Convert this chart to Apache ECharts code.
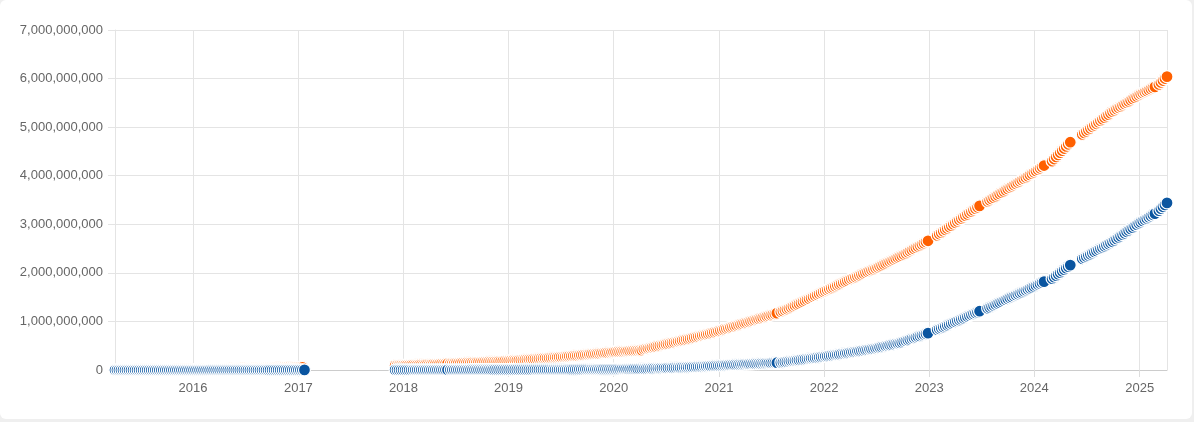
<!DOCTYPE html>
<html>
<head>
<meta charset="utf-8">
<script src="https://cdn.jsdelivr.net/npm/echarts@6/dist/echarts.min.js"></script>
<style>
	html, body { margin: 0; padding: 0; background: #efefef; }
	#card { position: absolute; left: 0; top: 0; width: 1192px; height: 419px;
		background: #fff; border-radius: 6px; }
	#main { width: 1192px; height: 419px; }
</style>
</head>
<body>
<div id="card"><div id="main"></div></div>
<script>
// weekly samples, one start date per run of data (gaps between runs)
var segStarts = [ '2015-04-05', '2017-12-03', '2018-06-13', '2020-04-15',
		'2021-08-04', '2023-01-29', '2023-07-23', '2024-03-03', '2024-06-16',
		'2025-03-09' ];

// values in millions
var orangeSegs = [
	[ 0, 0, 1, 1, 1, 1, 2, 2, 2, 2, 3, 3, 3, 3, 4, 4, 4, 4, 5, 5, 5, 5, 6, 6, 6,
		6, 7, 7, 7, 7, 8, 8, 8, 8, 9, 9, 9, 9, 10, 10, 11, 12, 12, 13, 14, 15,
		16, 16, 17, 18, 19, 19, 20, 21, 22, 23, 23, 24, 25, 26, 26, 27, 28, 29,
		29, 30, 31, 32, 33, 34, 35, 36, 37, 38, 38, 39, 40, 41, 42, 43, 44, 45,
		46, 47, 47, 48, 49, 50, 51, 52, 53, 53, 54, 55 ],
	[ 91, 93, 94, 96, 97, 99, 100, 102, 103, 105, 106, 108, 109, 111, 112,
		114, 115, 117, 118, 120, 121, 123, 124, 126, 127, 129, 130 ],
	[ 135, 137, 139, 141, 143, 145, 146, 148, 150, 152, 154, 156, 158, 160,
		162, 164, 166, 167, 169, 171, 173, 175, 177, 179, 181, 183, 185, 187,
		188, 190, 193, 196, 199, 202, 205, 208, 212, 215, 218, 221, 224, 227,
		230, 233, 236, 239, 242, 245, 248, 251, 255, 258, 261, 264, 267, 270,
		274, 278, 282, 285, 289, 293, 297, 301, 305, 308, 312, 316, 320, 324,
		328, 332, 335, 339, 343, 347, 351, 355, 358, 362, 366, 370, 373, 376,
		379, 381, 384, 387, 390, 393, 396, 398, 401, 404, 407, 410 ],
	[ 430, 440, 449, 459, 468, 478, 487, 497, 506, 516, 525, 535, 544, 554,
		563, 573, 583, 592, 602, 612, 621, 631, 640, 650, 661, 672, 682, 693,
		704, 715, 726, 736, 747, 758, 769, 779, 790, 803, 815, 828, 841, 853,
		866, 879, 892, 904, 917, 930, 942, 955, 968, 980, 993, 1006, 1018,
		1031, 1044, 1056, 1069, 1082, 1094, 1107, 1120, 1132, 1145, 1158, 1170 ],
	[ 1200, 1218, 1237, 1255, 1274, 1292, 1310, 1329, 1347, 1367, 1387, 1408,
		1428, 1448, 1468, 1489, 1509, 1529, 1549, 1570, 1590, 1610, 1629, 1648,
		1668, 1687, 1706, 1725, 1745, 1764, 1783, 1802, 1822, 1841, 1860, 1878,
		1896, 1914, 1932, 1950, 1969, 1987, 2005, 2023, 2041, 2059, 2077, 2095,
		2115, 2135, 2155, 2175, 2195, 2215, 2235, 2255, 2275, 2295, 2315, 2335,
		2355, 2378, 2402, 2425, 2449, 2472, 2496, 2519, 2543, 2566, 2590, 2613,
		2637, 2660 ],
	[ 2770, 2799, 2828, 2857, 2886, 2915, 2944, 2973, 3002, 3031, 3060, 3089,
		3118, 3147, 3176, 3205, 3234, 3263, 3292, 3321, 3350, 3380 ],
	[ 3470, 3496, 3522, 3548, 3574, 3600, 3626, 3652, 3678, 3704, 3730, 3756,
		3782, 3808, 3834, 3860, 3886, 3912, 3938, 3964, 3990, 4017, 4044, 4071,
		4098, 4125, 4153, 4181, 4210 ],
	[ 4300, 4343, 4387, 4430, 4473, 4517, 4560, 4603, 4647, 4690 ],
	[ 4850, 4881, 4913, 4944, 4975, 5007, 5038, 5069, 5101, 5132, 5163, 5195,
		5226, 5257, 5289, 5320, 5346, 5372, 5398, 5425, 5451, 5477, 5503, 5529,
		5555, 5582, 5608, 5634, 5660, 5681, 5703, 5724, 5745, 5766, 5788, 5809,
		5830 ],
	[ 5880, 5920, 5960, 6000, 6040 ] ];

var blueSegs = [
	[ 0, 0, 0, 0, 0, 0, 0, 0, 0, 0, 0, 0, 0, 0, 0, 0, 0, 0, 0, 0, 0, 0, 0, 0, 0,
		0, 0, 0, 0, 0, 0, 0, 0, 0, 0, 0, 0, 0, 0, 0, 0, 0, 0, 0, 0, 0, 0, 1, 1,
		1, 1, 1, 1, 1, 1, 1, 1, 1, 1, 1, 1, 1, 1, 1, 1, 1, 1, 1, 1, 1, 1, 1, 1,
		1, 1, 1, 1, 2, 2, 2, 2, 2, 2, 2, 2, 2, 2, 2, 2, 2, 2, 2, 2, 2, 2 ],
	[ 3, 3, 3, 3, 3, 3, 3, 3, 3, 4, 4, 4, 4, 4, 4, 4, 4, 4, 4, 5, 5, 5, 5, 5,
		5, 5, 5 ],
	[ 5, 5, 5, 5, 5, 5, 5, 5, 5, 5, 6, 6, 6, 6, 6, 6, 6, 6, 6, 6, 6, 6, 7, 7, 7,
		7, 7, 7, 7, 7, 7, 7, 7, 8, 8, 8, 8, 8, 8, 8, 8, 8, 9, 9, 9, 9, 9, 9, 9,
		9, 9, 10, 10, 10, 10, 10, 10, 10, 11, 11, 11, 12, 12, 12, 13, 13, 13,
		14, 14, 14, 15, 15, 15, 16, 16, 16, 17, 17, 17, 17, 18, 18, 18, 19, 19,
		20, 20, 21, 21, 22, 22, 23, 23, 23, 24, 24 ],
	[ 25, 27, 28, 30, 31, 33, 34, 36, 37, 39, 40, 42, 43, 45, 46, 48, 49, 51,
		52, 54, 55, 57, 58, 60, 62, 65, 67, 69, 72, 74, 76, 78, 81, 83, 85, 88,
		90, 92, 94, 96, 99, 101, 103, 105, 107, 109, 111, 114, 116, 118, 120,
		122, 124, 126, 128, 129, 131, 133, 135, 137, 139, 141, 143, 145, 147,
		148, 150 ],
	[ 155, 161, 167, 172, 178, 184, 190, 195, 201, 207, 213, 218, 224, 230,
		236, 241, 247, 253, 259, 264, 270, 276, 282, 288, 295, 301, 307, 313,
		319, 325, 332, 338, 344, 350, 357, 364, 371, 378, 385, 391, 398, 405,
		412, 419, 426, 433, 440, 449, 458, 468, 477, 486, 495, 505, 514, 523,
		532, 542, 551, 560, 574, 589, 603, 617, 631, 646, 660, 674, 689, 703,
		717, 731, 746, 760 ],
	[ 830, 848, 866, 884, 902, 920, 939, 957, 975, 993, 1011, 1029, 1047, 1065,
		1083, 1101, 1120, 1138, 1156, 1174, 1192, 1210 ],
	[ 1270, 1290, 1309, 1329, 1349, 1368, 1388, 1407, 1427, 1447, 1466, 1486,
		1506, 1525, 1545, 1564, 1584, 1604, 1623, 1643, 1663, 1682, 1702, 1721,
		1741, 1761, 1780, 1800, 1820 ],
	[ 1880, 1911, 1942, 1973, 2004, 2036, 2067, 2098, 2129, 2160 ],
	[ 2290, 2313, 2337, 2360, 2383, 2407, 2430, 2453, 2477, 2500, 2523, 2547,
		2570, 2593, 2617, 2640, 2669, 2698, 2728, 2757, 2786, 2815, 2845, 2874,
		2903, 2932, 2962, 2991, 3020, 3045, 3070, 3095, 3120, 3145, 3170, 3195,
		3220 ],
	[ 3280, 3320, 3360, 3400, 3440 ] ];

var yTicks = [ 0, 1e9, 2e9, 3e9, 4e9, 5e9, 6e9, 7e9 ];

var DAY = 24 * 3600 * 1000;

function buildSeries(segs) {
	var out = [];
	for (var s = 0; s < segs.length; s++) {
		var t0 = Date.parse(segStarts[s] + 'T00:00:00Z');
		for (var i = 0; i < segs[s].length; i++) {
			out.push([ t0 + i * 7 * DAY, segs[s][i] * 1e6 ]);
		}
	}
	return out;
}

var orangeData = buildSeries(orangeSegs);
var blueData = buildSeries(blueSegs);

var labelStyle = {
	color : '#666',
	fontSize : 13,
	fontFamily : 'Arial, "Liberation Sans", sans-serif'
};

option = {
	animation : false,
	grid : {
		left : 115,
		right : 25,
		top : 30,
		bottom : 49
	},
	xAxis : {
		type : 'time',
		min : 'dataMin',
		max : 'dataMax',
		minInterval : 365 * DAY,
		maxInterval : 366 * DAY,
		axisLine : {
			lineStyle : {
				color : '#ccc'
			}
		},
		axisTick : {
			show : true,
			length : 7,
			lineStyle : {
				color : '#ddd'
			}
		},
		splitLine : {
			show : true,
			lineStyle : {
				color : '#e4e4e4'
			}
		},
		axisLabel : Object.assign({
			margin : 12,
			showMinLabel : false,
			showMaxLabel : false,
			formatter : '{yyyy}'
		}, labelStyle)
	},
	yAxis : {
		type : 'value',
		min : 0,
		max : 7e9,
		interval : 1e9,
		axisLine : {
			show : true,
			lineStyle : {
				color : '#e4e4e4'
			}
		},
		axisTick : {
			show : true,
			length : 7,
			lineStyle : {
				color : '#e4e4e4'
			}
		},
		splitLine : {
			show : true,
			lineStyle : {
				color : '#e4e4e4'
			}
		},
		axisLabel : Object.assign({
			margin : 12,
			customValues : yTicks
		}, labelStyle)
	},
	series : [ {
		name : 'orange',
		type : 'line',
		data : orangeData,
		symbol : 'circle',
		symbolSize : 12,
		showSymbol : true,
		showAllSymbol : true,
		lineStyle : {
			width : 0,
			opacity : 0
		},
		itemStyle : {
			color : '#ff6000',
			borderColor : '#fff',
			borderWidth : 1.25
		}
	}, {
		name : 'blue',
		type : 'line',
		data : blueData,
		symbol : 'circle',
		symbolSize : 12,
		showSymbol : true,
		showAllSymbol : true,
		lineStyle : {
			width : 0,
			opacity : 0
		},
		itemStyle : {
			color : '#0a55a0',
			borderColor : '#fff',
			borderWidth : 1.25
		}
	} ]
};

myChart = echarts.init(document.getElementById('main'));
myChart.setOption(option);
</script>
</body>
</html>
